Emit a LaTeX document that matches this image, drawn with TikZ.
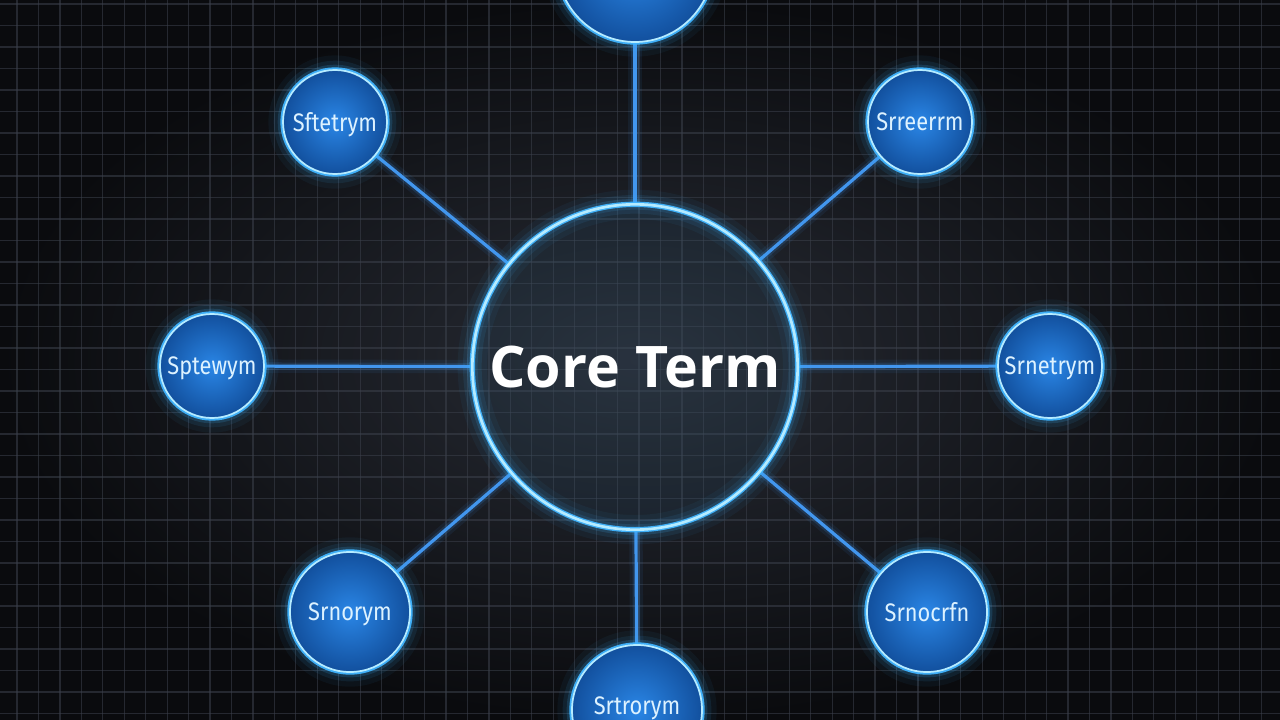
\documentclass[tikz,border=0pt]{standalone}
\usepackage{fontspec}
\setmainfont{Open Sans}
\newfontfamily\satfont[FakeStretch=0.86]{Fira Sans}
\definecolor{bgin}{HTML}{282C35}
\definecolor{bgout}{HTML}{0A0B0E}
\definecolor{gridc}{HTML}{3C414C}
\definecolor{ringc}{HTML}{3FB4FF}
\definecolor{ringcore}{HTML}{B5EBFF}
\definecolor{linkc}{HTML}{4296EE}
\definecolor{satin}{HTML}{2A86E6}
\definecolor{satout}{HTML}{12509E}
\definecolor{txtc}{HTML}{DDF2FF}
\pgfdeclarelayer{back}
\pgfdeclarelayer{mid}
\pgfsetlayers{back,mid,main}
\tikzset{
  sat/.style={circle, inner sep=0pt, shading=radial, inner color=satin, outer color=satout,
    draw=ringcore, line width=1.3pt, text=txtc, text depth=0pt,
    font=\satfont\fontsize{19}{21}\selectfont},
  core/.style={circle, inner sep=0pt, draw=ringcore, line width=2pt, minimum size=244pt,
    text=white, text depth=0pt, font=\bfseries\fontsize{43}{50}\selectfont},
  link/.style={draw=linkc, line width=2.4pt},
  gridline/.style={draw=gridc, line width=0.9pt, opacity=0.55},
}
\begin{document}
\begin{tikzpicture}[x=0.75pt,y=-0.75pt]
\useasboundingbox (0,0) rectangle (1280,720);
\clip (0,0) rectangle (1280,720);
% nodes
\node[core] (c) at (635,367) {Core Term};
\node[sat, minimum size=117pt] (t) at (635,-36) {};
\node[sat, minimum size=78pt] (tl) at (335,122) {Sftetrym};
\node[sat, minimum size=78pt] (tr) at (920,122) {Srreerrm};
\node[sat, minimum size=78pt] (l) at (212,366) {Sptewym};
\node[sat, minimum size=78pt] (r) at (1050,366) {Srnetrym};
\node[sat, minimum size=90pt] (bl) at (350,612) {Srnorym};
\node[sat, minimum size=90pt] (br) at (927,612) {Srnocrfn};
\node[sat, minimum size=97.5pt] (b) at (637,710) {};
\node[text=txtc, font=\satfont\fontsize{19}{21}\selectfont, anchor=base] (bt) at (637,714) {Srtrorym};
\begin{pgfonlayer}{back}
  \shade[inner color=bgin, outer color=bgout] (0,0) rectangle (1280,720);
  \foreach \i in {0,...,59} \draw[gridline] ({17+21.45*\i},0) -- ({17+21.45*\i},720);
  \foreach \j in {0,...,33} \draw[gridline] (0,{4+21.5*\j}) -- (1280,{4+21.5*\j});
\end{pgfonlayer}
\begin{pgfonlayer}{mid}
  % link glows and links
  \foreach \n in {t,tl,tr,l,r,bl,br,b}{
    \draw[linkc, line width=10pt, opacity=0.08] (c) -- (\n);
    \draw[linkc, line width=5.5pt, opacity=0.16] (c) -- (\n);
    \draw[link] (c) -- (\n);
  }
  % ring glows
  \foreach \n/\rr in {t/58.5pt,tl/39pt,tr/39pt,l/39pt,r/39pt,bl/45pt,br/45pt,b/48.75pt,c/122pt}{
    \draw[ringc, line width=22pt, opacity=0.05] (\n.center) circle (\rr);
    \draw[ringc, line width=14pt, opacity=0.09] (\n.center) circle (\rr);
    \draw[ringc, line width=8pt, opacity=0.16] (\n.center) circle (\rr);
    \draw[ringc, line width=4pt, opacity=0.95] (\n.center) circle (\rr);
  }
  \fill[ringc, opacity=0.05] (c.center) circle (118pt);
\end{pgfonlayer}
\end{tikzpicture}
\end{document}
